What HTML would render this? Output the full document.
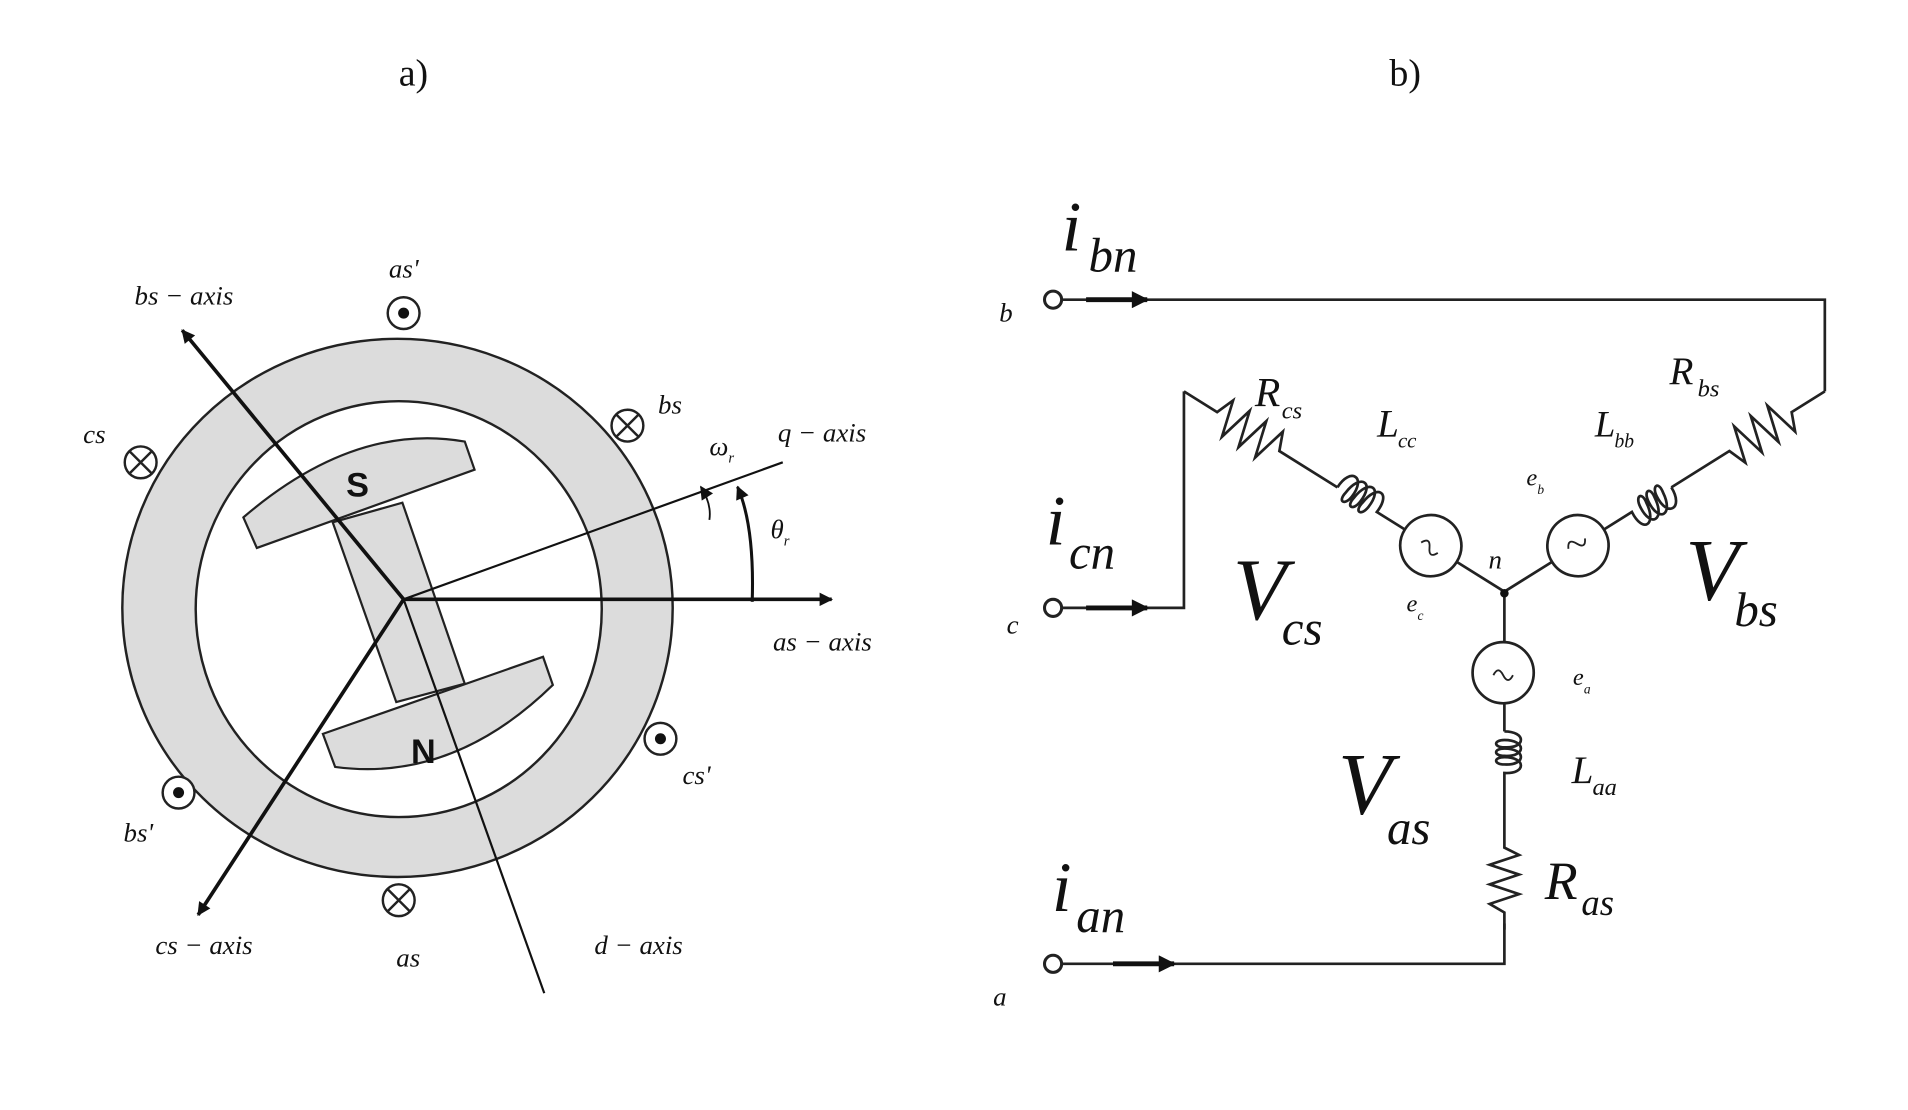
<!DOCTYPE html>
<html><head><meta charset="utf-8"><style>
html,body{margin:0;padding:0;background:#fff}
svg{display:block}
text{font-family:"Liberation Serif",serif;font-style:italic;fill:#111}
</style></head><body>
<svg width="1908" height="1110" viewBox="0 0 1560 907.5" preserveAspectRatio="none" xmlns="http://www.w3.org/2000/svg">
<defs>
<marker id="ah" viewBox="0 0 10 10" refX="9" refY="5" markerWidth="13" markerHeight="11" orient="auto" markerUnits="userSpaceOnUse"><path d="M0,0 L10,5 L0,10 z" fill="#111"/></marker>
<marker id="ah2" viewBox="0 0 10 10" refX="9" refY="5" markerWidth="16" markerHeight="14" orient="auto" markerUnits="userSpaceOnUse"><path d="M0,0 L10,5 L0,10 z" fill="#111"/></marker>
</defs>
<text x="326" y="70" font-size="31" style="font-style:normal">a)</text>
<text x="1136" y="70" font-size="31" style="font-style:normal">b)</text>

<!-- stator -->
<ellipse cx="325" cy="497" rx="225" ry="220" fill="#dcdcdc" stroke="#222" stroke-width="2"/>
<ellipse cx="326" cy="498" rx="166" ry="170" fill="#fff" stroke="#222" stroke-width="2"/>
<!-- rotor -->
<path d="M272,427 L329,411 L380,559 L324,574 Z" fill="#dcdcdc" stroke="#222" stroke-width="1.8"/>
<path d="M199,423 Q290,345 380,361 L388,384 L210,448 Z" fill="#dcdcdc" stroke="#222" stroke-width="1.8"/>
<path d="M264,600 L444,537 L452,560 Q370,640 274,627 Z" fill="#dcdcdc" stroke="#222" stroke-width="1.8"/>
<text x="283" y="406" font-size="28" style="font-style:normal;font-family:'Liberation Sans',sans-serif;font-weight:bold">S</text>
<text x="336" y="624" font-size="28" style="font-style:normal;font-family:'Liberation Sans',sans-serif;font-weight:bold">N</text>
<!-- axes -->
<line x1="330" y1="490" x2="680" y2="490" stroke="#111" stroke-width="3" marker-end="url(#ah)"/>
<line x1="330" y1="490" x2="149" y2="270" stroke="#111" stroke-width="3" marker-end="url(#ah)"/>
<line x1="330" y1="490" x2="162" y2="748" stroke="#111" stroke-width="3" marker-end="url(#ah)"/>
<line x1="330" y1="490" x2="640" y2="378" stroke="#111" stroke-width="1.8"/>
<line x1="330" y1="490" x2="445" y2="812" stroke="#111" stroke-width="1.8"/>
<path d="M615,492 Q617,430 603,398" fill="none" stroke="#111" stroke-width="2.5" marker-end="url(#ah)"/>
<path d="M580,425 Q582,412 573,398" fill="none" stroke="#111" stroke-width="1.5" marker-end="url(#ah)"/>
<!-- conductors -->
<g fill="#fff" stroke="#222" stroke-width="2">
<circle cx="330" cy="256" r="13"/><circle cx="540" cy="604" r="13"/><circle cx="146" cy="648" r="13"/>
<circle cx="513" cy="348" r="13"/><circle cx="115" cy="378" r="13"/><circle cx="326" cy="736" r="13"/>
</g>
<g fill="#111"><circle cx="330" cy="256" r="4.5"/><circle cx="540" cy="604" r="4.5"/><circle cx="146" cy="648" r="4.5"/></g>
<g stroke="#222" stroke-width="2">
<path d="M504,339 L522,357 M522,339 L504,357"/><path d="M106,369 L124,387 M124,369 L106,387"/><path d="M317,727 L335,745 M335,727 L317,745"/>
</g>
<g font-size="22">
<text x="318" y="227">as'</text>
<text x="110" y="249">bs − axis</text>
<text x="538" y="338">bs</text>
<text x="68" y="362">cs</text>
<text x="580" y="372">ω<tspan font-size="12" dy="6">r</tspan></text>
<text x="636" y="361">q − axis</text>
<text x="630" y="440">θ<tspan font-size="12" dy="6">r</tspan></text>
<text x="632" y="532">as − axis</text>
<text x="558" y="641">cs'</text>
<text x="101" y="688">bs'</text>
<text x="127" y="780">cs − axis</text>
<text x="324" y="790">as</text>
<text x="486" y="780">d − axis</text>
</g>

<!-- circuit -->
<g fill="none" stroke="#222" stroke-width="2.2">
<polyline points="868,245 1492,245 1492,320"/>
<polyline points="868,497 968,497 968,320"/>
<polyline points="868,788 1230,788 1230,755"/>
<circle cx="861" cy="245" r="7" fill="#fff" stroke-width="2.5"/>
<circle cx="861" cy="497" r="7" fill="#fff" stroke-width="2.5"/>
<circle cx="861" cy="788" r="7" fill="#fff" stroke-width="2.5"/>
<!-- c branch -->
<g transform="translate(968,320) rotate(32)">
<path d="M0,0 L32,0 L38,-15 L46,15 L54,-15 L62,15 L70,-15 L78,15 L86,-15 L92,0 L148,0"/>
<path d="M148,0 c0,-20 16,-20 14,0 c-1,10 -8,10 -6,0 c2,-20 16,-20 14,0 c-1,10 -8,10 -6,0 c2,-20 16,-20 14,0 c-1,10 -8,10 -6,0 c2,-20 16,-20 14,0 L213,0"/>
<circle cx="238" cy="0" r="25"/>
<path d="M263,0 L309,0"/>
<path d="M230,2 q4,-8 8,0 t8,0" stroke-width="1.5"/>
</g>
<!-- b branch -->
<g transform="translate(1492,320) rotate(148)">
<path d="M0,0 L32,0 L38,-15 L46,15 L54,-15 L62,15 L70,-15 L78,15 L86,-15 L92,0 L148,0"/>
<path d="M148,0 c0,-20 16,-20 14,0 c-1,10 -8,10 -6,0 c2,-20 16,-20 14,0 c-1,10 -8,10 -6,0 c2,-20 16,-20 14,0 c-1,10 -8,10 -6,0 c2,-20 16,-20 14,0 L213,0"/>
<circle cx="238" cy="0" r="25"/>
<path d="M263,0 L309,0"/>
<path d="M230,2 q4,-8 8,0 t8,0" stroke-width="1.5"/>
</g>
<!-- a branch -->
<path d="M1230,485 L1230,525"/>
<circle cx="1229" cy="550" r="25"/>
<path d="M1221,552 q4,-8 8,0 t8,0" stroke-width="1.5"/>
<path d="M1230,575 L1230,598"/>
<path d="M1230,598 c18,0 18,14 0,13 c-9,0 -9,-6 0,-6 c18,0 18,14 0,13 c-9,0 -9,-6 0,-6 c18,0 18,14 0,13 c-9,0 -9,-6 0,-6 c18,0 18,14 0,13 L1230,690"/>
<path d="M1230,690 L1230,693 L1242,699 L1218,707 L1242,715 L1218,723 L1242,731 L1218,739 L1230,746 L1230,760"/>
</g>
<circle cx="1230" cy="485" r="3.5" fill="#111"/>
<!-- arrows -->
<g stroke="#111" stroke-width="4">
<line x1="888" y1="245" x2="938" y2="245" marker-end="url(#ah2)"/>
<line x1="888" y1="497" x2="938" y2="497" marker-end="url(#ah2)"/>
<line x1="910" y1="788" x2="960" y2="788" marker-end="url(#ah2)"/>
</g>
<!-- labels -->
<text x="868" y="205" font-size="58">i</text><text x="890" y="222" font-size="40">bn</text>
<text x="855" y="445" font-size="58">i</text><text x="874" y="465" font-size="40">cn</text>
<text x="860" y="745" font-size="58">i</text><text x="880" y="762" font-size="40">an</text>
<text x="817" y="263" font-size="22">b</text>
<text x="823" y="518" font-size="22">c</text>
<text x="812" y="822" font-size="22">a</text>
<text x="1008" y="506" font-size="72">V</text><text x="1048" y="527" font-size="40">cs</text>
<text x="1378" y="490" font-size="72">V</text><text x="1418" y="512" font-size="40">bs</text>
<text x="1094" y="665" font-size="72">V</text><text x="1134" y="690" font-size="40">as</text>
<text x="1026" y="332" font-size="34">R</text><text x="1048" y="342" font-size="20">cs</text>
<text x="1126" y="357" font-size="32">L</text><text x="1143" y="366" font-size="17">cc</text>
<text x="1365" y="314" font-size="32">R</text><text x="1388" y="324" font-size="20">bs</text>
<text x="1304" y="357" font-size="30">L</text><text x="1320" y="366" font-size="16">bb</text>
<text x="1248" y="397" font-size="20">e</text><text x="1257" y="404" font-size="11">b</text>
<text x="1150" y="500" font-size="20">e</text><text x="1159" y="507" font-size="11">c</text>
<text x="1286" y="560" font-size="20">e</text><text x="1295" y="567" font-size="11">a</text>
<text x="1217" y="465" font-size="22">n</text>
<text x="1285" y="640" font-size="32">L</text><text x="1302" y="650" font-size="20">aa</text>
<text x="1263" y="735" font-size="44">R</text><text x="1293" y="748" font-size="30">as</text>
</svg>
</body></html>
